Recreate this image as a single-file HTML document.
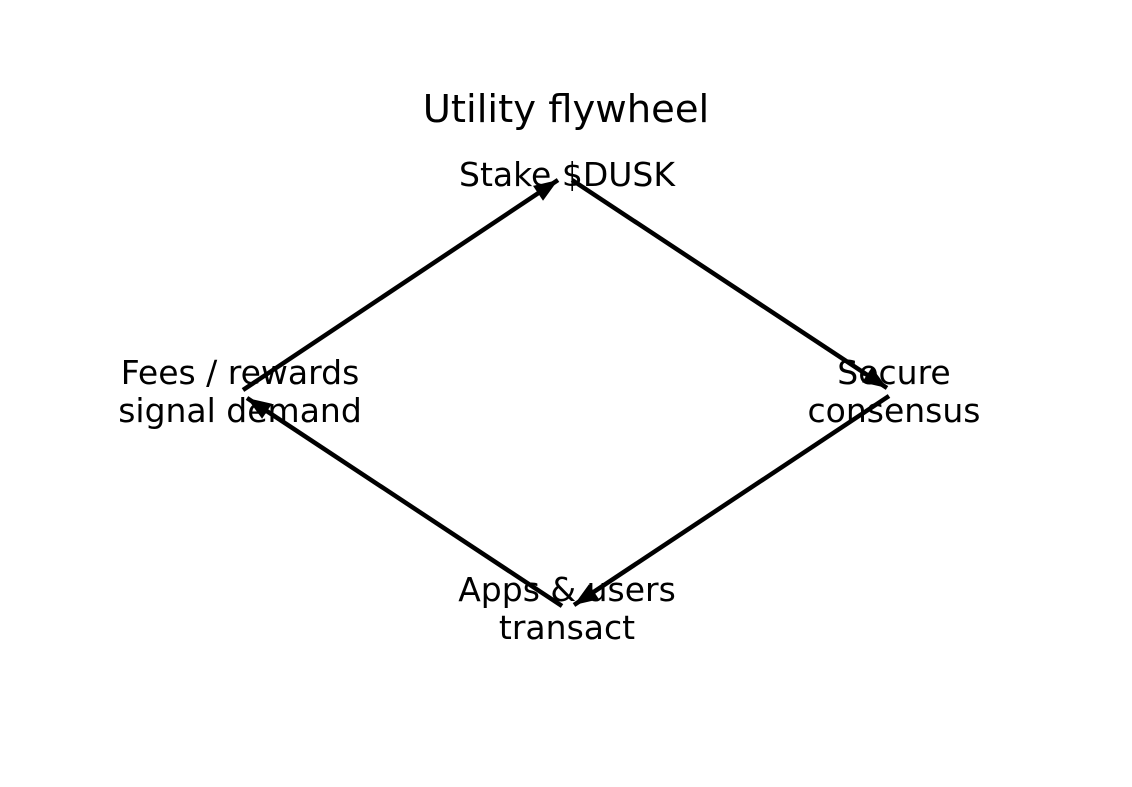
<!DOCTYPE html>
<html><head><meta charset="utf-8"><style>
html,body{margin:0;padding:0;background:#fff;}
svg{display:block;}
text{font-family:"DejaVu Sans","Liberation Sans",sans-serif;fill:#000;}
</style></head><body>
<svg width="1132" height="787" viewBox="0 0 1132 787" xmlns="http://www.w3.org/2000/svg">
<defs>
<marker id="a" markerUnits="userSpaceOnUse" markerWidth="30" markerHeight="30" refX="24" refY="0" viewBox="-2 -12 30 24" orient="auto">
<path d="M0,-9 L24,0 L0,9 z" fill="#000"/>
</marker>
</defs>
<text x="566" y="122" font-size="38.5" text-anchor="middle">Utility flywheel</text>
<text x="567" y="186" font-size="33" text-anchor="middle">Stake $DUSK</text>
<text x="240" y="384" font-size="33" text-anchor="middle">Fees / rewards</text>
<text x="240" y="422" font-size="33" text-anchor="middle">signal demand</text>
<text x="894" y="384" font-size="33" text-anchor="middle">Secure</text>
<text x="894" y="422" font-size="33" text-anchor="middle">consensus</text>
<text x="567" y="601" font-size="33" text-anchor="middle">Apps &amp; users</text>
<text x="567" y="639" font-size="33" text-anchor="middle">transact</text>
<g stroke="#000" stroke-width="4.5" fill="none">
<line x1="243" y1="390" x2="558" y2="180" marker-end="url(#a)"/>
<line x1="572" y1="180" x2="887" y2="388" marker-end="url(#a)"/>
<line x1="889" y1="396" x2="574" y2="605" marker-end="url(#a)"/>
<line x1="562" y1="606" x2="247" y2="398" marker-end="url(#a)"/>
</g>
</svg>
</body></html>
